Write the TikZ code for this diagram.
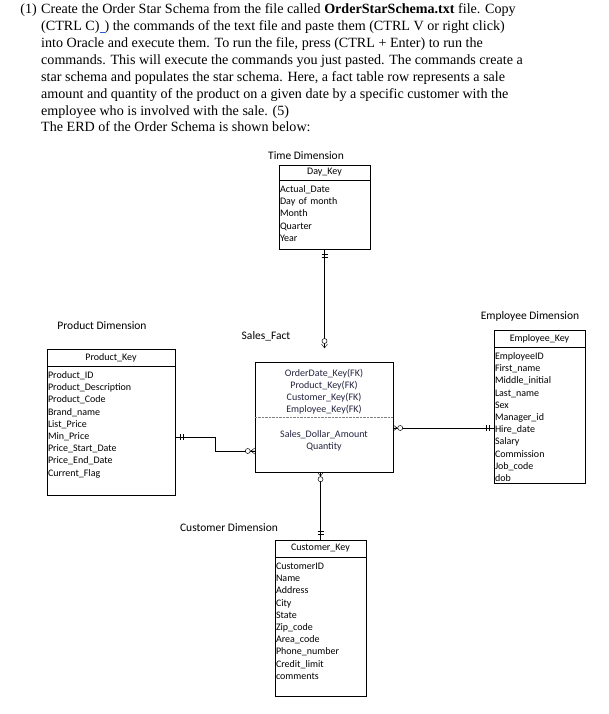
\documentclass[tikz,border=0pt]{standalone}
\usepackage{fontspec}
\setmainfont{Liberation Serif}
\newfontfamily\erdfont{Carlito}
\usepackage{xcolor}
\usetikzlibrary{positioning,calc}
\definecolor{linkblue}{HTML}{2F5AD0}
\definecolor{factink}{HTML}{23233F}
\begin{document}
\begin{tikzpicture}[x=1pt, y=-1pt, font=\erdfont\fontsize{10}{12.2}\selectfont,
  title/.style={font=\erdfont\fontsize{11.5}{13}\selectfont},
  head/.style={draw, minimum width=#1, minimum height=17pt, inner sep=0pt},
  body/.style={draw, align=left, inner xsep=1pt, inner ysep=1.5pt, text width=#1,
    execute at begin node=\rule{0pt}{10.5pt}},
  rel/.style={line width=0.6pt},
  ring/.style={draw, fill=white, line width=0.5pt}]
\useasboundingbox (0,0) rectangle (609,714);
% question text
\node[anchor=north east, font=\normalfont\fontsize{14.1}{16.9}\selectfont, inner sep=0pt] (qnum) at (37,3.5) {(1)};
\node[anchor=north west, align=left, font=\normalfont\fontsize{14.1}{16.9}\selectfont, inner sep=0pt] (qtext) at (41,3.5)
  {Create the Order Star Schema from the file called \textbf{OrderStarSchema.txt} file. Copy\\
   (CTRL C)\textcolor{linkblue}{\underline{\hspace{5pt}}}) the commands of the text file and paste them (CTRL V or right click)\\
   into Oracle and execute them. To run the file, press (CTRL + Enter) to run the\\
   commands. This will execute the commands you just pasted. The commands create a\\
   star schema and populates the star schema. Here, a fact table row represents a sale\\
   amount and quantity of the product on a given date by a specific customer with the\\
   employee who is involved with the sale. (5)\\
   The ERD of the Order Schema is shown below:};
% dimension tables
\node[title] (timetitle) at (306,156) {Time Dimension};
\node[head=91pt, minimum height=15pt] (timehead) at (324.5,172.5) {Day\_Key};
\node[body=89pt, below=0pt of timehead] (timebody) {Actual\_Date\\Day of month\\Month\\Quarter\\Year\\[-6pt]\mbox{}};
\node[title] (prodtitle) at (102,326) {Product Dimension};
\node[head=128pt] (prodhead) at (111,357.5) {Product\_Key};
\node[body=126pt, below=0pt of prodhead] (prodbody) {Product\_ID\\Product\_Description\\Product\_Code\\Brand\_name\\List\_Price\\Min\_Price\\Price\_Start\_Date\\Price\_End\_Date\\Current\_Flag\\[5pt]\mbox{}};
\node[title] (emptitle) at (530,316) {Employee Dimension};
\node[head=91pt] (emphead) at (539.5,338.5) {Employee\_Key};
\node[body=89pt, below=0pt of emphead] (empbody) {EmployeeID\\First\_name\\Middle\_initial\\Last\_name\\Sex\\Manager\_id\\Hire\_date\\Salary\\Commission\\Job\_code\\dob};
\node[title] (custtitle) at (229,528) {Customer Dimension};
\node[head=91pt] (custhead) at (320.5,548.5) {Customer\_Key};
\node[body=89pt, below=0pt of custhead] (custbody) {CustomerID\\Name\\Address\\City\\State\\Zip\_code\\Area\_code\\Phone\_number\\Credit\_limit\\comments\\[3pt]\mbox{}};
% fact table
\node[title] (facttitle) at (266,336) {Sales\_Fact};
\node[draw, minimum width=138pt, minimum height=110pt] (fact) at (324,417) {};
\draw[densely dotted, gray] (fact.west) -- (fact.east);
\node[align=center, text=factink] (factkeys) at (324,391.5) {OrderDate\_Key(FK)\\Product\_Key(FK)\\Customer\_Key(FK)\\Employee\_Key(FK)};
\node[align=center, text=factink] (factmeas) at (324,441) {Sales\_Dollar\_Amount\\Quantity};
% relationships
\coordinate (tfend) at (324.5,348);
\draw[rel] (timebody.south) -- (tfend);
\draw ($(timebody.south)+(-3,5)$) -- ++(6,0) ($(timebody.south)+(-3,8)$) -- ++(6,0);
\draw (tfend) -- ++(-3,-4) (tfend) -- ++(0,-4) (tfend) -- ++(3,-4);
\draw[ring] ($(tfend)+(0,-7)$) circle (2.5);
\coordinate (fs) at (fact.south -| custhead.north);
\draw[rel] (fs) -- (custhead.north);
\draw ($(fs)+(-3,0)$) -- ++(3,4) -- ++(3,-4) (fs) -- ++(0,4);
\draw[ring] ($(fs)+(0,7)$) circle (2.5);
\draw ($(custhead.north)+(-3,-9)$) -- ++(6,0) ($(custhead.north)+(-3,-6)$) -- ++(6,0);
\coordinate (fe) at ($(fact.east)+(0,11)$);
\draw[rel] (fe) -- (fe -| empbody.west);
\draw ($(fe)+(0,-3)$) -- ++(4,3) -- ++(-4,3) (fe) -- ++(4,0);
\draw[ring] ($(fe)+(7,0)$) circle (2.5);
\draw ($(fe -| empbody.west)+(-8,-3)$) -- ++(0,6) ($(fe -| empbody.west)+(-5,-3)$) -- ++(0,6);
\coordinate (fw) at ($(fact.west)+(0,34)$);
\coordinate (pe) at ($(prodbody.east)+(0,6.5)$);
\draw[rel] (pe) -- ++(40,0) |- (fw);
\draw ($(fw)+(0,-3)$) -- ++(-4,3) -- ++(4,3) (fw) -- ++(-4,0);
\draw[ring] ($(fw)+(-7,0)$) circle (2.5);
\draw ($(pe)+(5,-3)$) -- ++(0,6) ($(pe)+(8,-3)$) -- ++(0,6);
\end{tikzpicture}
\end{document}
